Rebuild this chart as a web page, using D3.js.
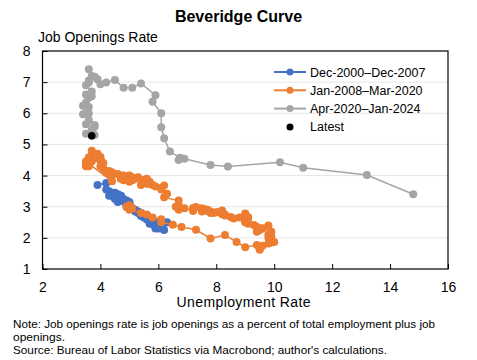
<!DOCTYPE html>
<html><head><meta charset="utf-8">
<script src="https://cdn.jsdelivr.net/npm/d3@7"></script>
<style>body{margin:0;background:#fff}svg{display:block;font-family:"Liberation Sans",Arial,sans-serif}</style>
</head><body><svg id="c" width="477" height="360"></svg>
<script>
// Unemployment rate (x) and job openings rate (y), monthly
const blueU = [3.9,
 4.2,4.2,4.3,4.4,4.3,4.5,4.6,4.9,5.0,5.3,5.5,5.7,
 5.7,5.7,5.7,5.9,5.8,5.8,5.8,5.7,5.7,5.7,5.9,6.0,
 5.8,5.9,5.9,6.0,6.1,6.3,6.2,6.1,6.1,6.0,5.8,5.7,
 5.7,5.6,5.8,5.6,5.6,5.6,5.5,5.4,5.4,5.5,5.4,5.4,
 5.3,5.4,5.2,5.2,5.1,5.0,5.0,4.9,5.0,5.0,5.0,4.9,
 4.7,4.8,4.7,4.7,4.6,4.6,4.7,4.7,4.5,4.4,4.5,4.4,
 4.6,4.5,4.4,4.5,4.4,4.6,4.7,4.6,4.7,4.7,4.7,5.0];
const blueV = [3.70,
 3.76,3.55,3.50,3.40,3.35,3.25,3.15,3.00,2.95,2.80,2.70,2.60,
 2.65,2.55,2.60,2.50,2.55,2.50,2.45,2.50,2.55,2.45,2.40,2.40,
 2.45,2.35,2.30,2.30,2.35,2.50,2.25,2.30,2.35,2.40,2.45,2.50,
 2.55,2.60,2.55,2.65,2.60,2.70,2.65,2.70,2.75,2.70,2.80,2.75,
 2.85,2.80,2.85,2.90,2.95,3.00,3.05,3.10,3.05,3.10,3.15,3.20,
 3.20,3.25,3.30,3.35,3.30,3.40,3.35,3.30,3.35,3.40,3.45,3.40,
 3.35,3.30,3.45,3.40,3.35,3.30,3.35,3.30,3.25,3.30,3.20,3.10];

const orangeU = [
 5.0,4.9,5.1,5.0,5.4,5.6,5.8,6.1,6.1,6.5,6.8,7.3,
 7.8,8.3,8.7,9.0,9.4,9.5,9.5,9.6,9.8,10.0,9.9,9.9,
 9.8,9.8,9.9,9.9,9.6,9.4,9.4,9.5,9.5,9.4,9.8,9.3,
 9.1,9.0,9.0,9.1,9.0,9.1,9.0,9.0,9.0,8.8,8.6,8.5,
 8.3,8.3,8.2,8.2,8.2,8.2,8.2,8.1,7.8,7.8,7.7,7.9,
 8.0,7.7,7.5,7.6,7.5,7.5,7.3,7.2,7.2,7.2,6.9,6.7,
 6.6,6.7,6.7,6.2,6.3,6.1,6.2,6.1,5.9,5.7,5.8,5.6,
 5.7,5.5,5.4,5.4,5.6,5.3,5.2,5.1,5.0,5.0,5.1,5.0,
 4.8,4.9,5.0,5.1,4.8,4.9,4.8,4.9,5.0,4.9,4.7,4.7,
 4.7,4.6,4.4,4.4,4.4,4.3,4.3,4.4,4.3,4.2,4.2,4.1,
 4.0,4.1,4.0,4.0,3.8,4.0,3.8,3.8,3.7,3.8,3.8,3.9,
 4.0,3.8,3.8,3.7,3.6,3.6,3.7,3.6,3.5,3.6,3.6,3.6,
 3.5,3.5,4.4];
const orangeV = [
 3.05,3.00,2.95,2.90,2.80,2.75,2.65,2.60,2.50,2.42,2.35,2.26,
 1.98,2.09,1.87,1.70,1.77,1.62,1.66,1.75,1.82,1.87,1.85,1.95,
 2.00,2.10,2.05,2.20,2.30,2.20,2.35,2.30,2.25,2.35,2.40,2.41,
 2.45,2.51,2.55,2.62,2.50,2.67,2.75,2.78,2.60,2.65,2.62,2.67,
 2.72,2.75,2.80,2.85,2.88,2.80,2.76,2.83,2.80,2.85,2.86,2.80,
 2.82,2.90,2.88,2.92,2.85,2.95,2.99,2.96,2.90,2.86,2.95,2.90,
 3.00,3.05,3.20,3.30,3.42,3.55,3.68,3.60,3.65,3.74,3.70,3.74,
 3.80,3.85,3.70,3.86,3.90,3.95,3.90,3.85,3.80,3.90,3.95,3.85,
 3.95,3.90,4.00,3.90,3.85,3.95,4.00,3.90,3.85,3.90,3.95,3.90,
 4.00,4.05,4.00,4.06,4.10,4.10,4.05,4.10,4.15,4.10,4.15,4.22,
 4.30,4.40,4.48,4.50,4.60,4.55,4.62,4.66,4.80,4.70,4.65,4.70,
 4.60,4.55,4.62,4.50,4.52,4.56,4.45,4.50,4.40,4.59,4.36,4.30,
 4.30,4.45,3.82];

const grayU = [14.8,13.2,11.0,10.2,8.4,7.8,6.9,6.7,6.75,
 6.4,6.2,6.1,6.1,5.8,5.9,5.4,5.1,4.8,4.5,4.2,4.0,
 3.9,3.8,3.6,3.7,3.6,3.6,3.5,3.7,3.5,3.7,3.6,3.5,
 3.4,3.6,3.5,3.4,3.6,3.6,3.5,3.8,3.8,3.8,3.7,3.5,3.7];
const grayV = [3.40,4.02,4.25,4.43,4.29,4.34,4.54,4.50,4.57,
 4.77,5.20,5.55,6.00,6.37,6.58,6.96,6.82,6.82,7.07,6.99,6.93,
 7.09,7.17,7.41,7.20,7.05,6.99,6.90,6.70,6.60,6.55,6.50,6.35,
 6.24,6.20,6.00,5.97,5.99,5.78,5.65,5.57,5.62,5.30,5.46,5.34,5.28];

const latestU = [3.7], latestV = [5.28];

const seriesNames = ["Dec-2000\u2013Dec-2007","Jan-2008\u2013Mar-2020","Apr-2020\u2013Jan-2024","Latest"];
const xTicks = [2,4,6,8,10,12,14,16];
const yTicks = [1,2,3,4,5,6,7,8];
const notes = ["Note: Job openings rate is job openings as a percent of total employment plus job",
 "openings.",
 "Source: Bureau of Labor Statistics via Macrobond; author's calculations."];

const svg = d3.select("#c");
const x = d3.scaleLinear().domain([2,16]).range([42.5,448]);
const y = d3.scaleLinear().domain([1,8]).range([269,51]);

svg.append("text").attr("x",238.5).attr("y",22).attr("text-anchor","middle")
  .attr("font-size",16).attr("font-weight","bold").text("Beveridge Curve");
svg.append("text").attr("x",38).attr("y",42).attr("font-size",14).text("Job Openings Rate");

// gridlines
svg.append("g").selectAll("line").data(yTicks.filter(d=>d>1&&d<8)).join("line")
  .attr("x1",x(2)).attr("x2",x(16)).attr("y1",d=>y(d)).attr("y2",d=>y(d))
  .attr("stroke","#e6e6e6").attr("stroke-width",1);

const xa = svg.append("g").attr("transform",`translate(0,${y(1)})`)
  .call(d3.axisBottom(x).tickValues(xTicks).tickSize(-5).tickPadding(13).tickFormat(d3.format("d")));
const ya = svg.append("g").attr("transform",`translate(${x(2)},0)`)
  .call(d3.axisLeft(y).tickValues(yTicks).tickSize(-5).tickPadding(12).tickFormat(d3.format("d")));
[xa,ya].forEach(a=>{a.select(".domain").remove();a.selectAll("text").attr("font-size",14).attr("fill","#000")
  .attr("font-family","'Liberation Sans',Arial,sans-serif");a.selectAll("line").attr("stroke","#000");});

svg.append("rect").attr("x",x(2)).attr("y",y(8)).attr("width",x(16)-x(2)).attr("height",y(1)-y(8))
  .attr("fill","none").attr("stroke","#000").attr("stroke-width",1.2);

const line = d3.line().x(d=>x(d[0])).y(d=>y(d[1]));
function series(U,V,color){
  const pts = U.map((u,i)=>[u,V[i]]);
  const g = svg.append("g");
  g.append("path").datum(pts).attr("d",line).attr("fill","none").attr("stroke",color).attr("stroke-width",1.5);
  g.selectAll("circle").data(pts).join("circle").attr("cx",d=>x(d[0])).attr("cy",d=>y(d[1])).attr("r",4).attr("fill",color);
}
const colors = ["#4472c4","#ed7d31","#a5a5a5","#000000"];
series(blueU,blueV,colors[0]);
series(orangeU,orangeV,colors[1]);
series(grayU,grayV,colors[2]);
svg.append("g").selectAll("circle").data(latestU.map((u,i)=>[u,latestV[i]])).join("circle")
  .attr("cx",d=>x(d[0])).attr("cy",d=>y(d[1])).attr("r",3.8).attr("fill","#000");

// legend
const lg = svg.append("g");
seriesNames.forEach((n,i)=>{
  const yy = 72 + i*18.3;
  if(i<3) lg.append("line").attr("x1",274).attr("x2",306).attr("y1",yy).attr("y2",yy).attr("stroke",colors[i]).attr("stroke-width",2);
  lg.append("circle").attr("cx",290).attr("cy",yy).attr("r",3.5).attr("fill",colors[i]);
  lg.append("text").attr("x",310).attr("y",yy+4.5).attr("font-size",12.5).text(n);
});

svg.append("text").attr("x",243.5).attr("y",307).attr("text-anchor","middle").attr("font-size",14)
  .attr("textLength",134).attr("lengthAdjust","spacing").text("Unemployment Rate");
const noteLens = [422,52,374];
notes.forEach((t,i)=>{
  svg.append("text").attr("x",13).attr("y",328+i*13).attr("font-size",11.5)
    .attr("textLength",noteLens[i]).attr("lengthAdjust","spacingAndGlyphs").text(t);
});
</script></body></html>
